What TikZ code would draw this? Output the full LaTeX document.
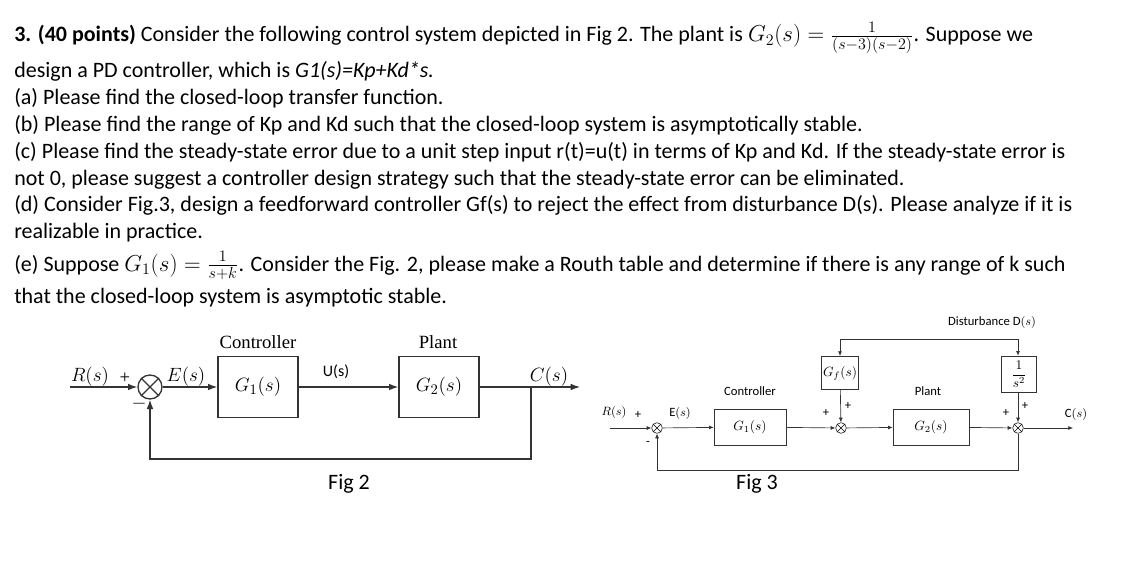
\documentclass[tikz,border=0pt]{standalone}
\usepackage{fontspec}
\setmainfont{Carlito}
\newfontfamily\tms{Liberation Serif}
\usetikzlibrary{arrows.meta}
\begin{document}
\begin{tikzpicture}[x=0.75pt,y=-0.75pt,
  line/.style={draw=black!80,line width=0.9pt},
  arr/.style={line,-{Latex[length=7pt,width=5pt]}},
  sarr/.style={draw=black!80,line width=0.5pt,-{Latex[length=3.5pt,width=3pt]}},
  tl/.style={anchor=base west,inner sep=0pt,font=\fontsize{16.5}{18}\selectfont},
  blk/.style={draw=black!80,line width=1pt,minimum width=60pt,minimum height=45.75pt,font=\tms\fontsize{15}{17}\selectfont},
  sblk/.style={draw=black!80,line width=0.5pt,font=\fontsize{10}{11}\selectfont,inner sep=1pt},
  lab/.style={font=\tms\fontsize{14}{16}\selectfont,inner sep=0pt},
  slab/.style={font=\fontsize{9.5}{10}\selectfont,inner sep=0pt}]
\useasboundingbox (0,0) rectangle (1126,567);
% text
\node[tl] (t1) at (14,42) {\textbf{3. (40 points)} Consider the following control system depicted in Fig 2. The plant is $G_2(s)=\frac{1}{(s-3)(s-2)}$. Suppose we};
\node[tl] (t2) at (14,77) {design a PD controller, which is \textit{G1(s)=Kp+Kd*s.}};
\node[tl] (t3) at (14,104) {(a) Please find the closed-loop transfer function.};
\node[tl] (t4) at (14,131) {(b) Please find the range of Kp and Kd such that the closed-loop system is asymptotically stable.};
\node[tl] (t5) at (14,158) {(c) Please find the steady-state error due to a unit step input r(t)=u(t) in terms of Kp and Kd. If the steady-state error is};
\node[tl] (t6) at (14,185) {not 0, please suggest a controller design strategy such that the steady-state error can be eliminated.};
\node[tl] (t7) at (14,211) {(d) Consider Fig.3, design a feedforward controller Gf(s) to reject the effect from disturbance D(s). Please analyze if it is};
\node[tl] (t8) at (14,238) {realizable in practice.};
\node[tl] (t9) at (14,271) {(e) Suppose $G_1(s)=\frac{1}{s+k}$. Consider the Fig. 2, please make a Routh table and determine if there is any range of k such};
\node[tl] (t10) at (14,303) {that the closed-loop system is asymptotic stable.};
% Fig 2
\coordinate (rin) at (70,387);
\node[draw=black!80,line width=1pt,circle,minimum size=18pt,inner sep=0pt] (s1) at (150,387) {};
\draw[line width=1pt,black!80] (s1.north west)--(s1.south east) (s1.north east)--(s1.south west);
\node[blk] (g1) at (258,387) {$G_1(s)$};
\node[blk] (g2) at (439,387) {$G_2(s)$};
\coordinate (br) at (531,387);
\coordinate (out) at (580,387);
\draw[arr] (rin)--(s1);
\draw[arr] (s1)--(g1);
\draw[arr] (g1)--(g2);
\draw[arr] (g2.east)--(out);
\draw[arr] (br)--(531,459)-|(s1.south);
\node[lab] (lr) at (90,377) {$R(s)$};
\node[lab] (lp) at (125,378) {+};
\node[lab] (lm) at (139,404) {$-$};
\node[lab] (le) at (186,377) {$E(s)$};
\node[slab,font=\fontsize{12}{14}\selectfont] (lu) at (336,372) {U(s)};
\node[lab] (lc) at (549,377) {$C(s)$};
\node[lab] (lct) at (258,342) {Controller};
\node[lab] (lpl) at (438,342) {Plant};
\node[font=\fontsize{16.5}{18}\selectfont] (f2) at (349,484) {Fig 2};
% Fig 3
\coordinate (rin3) at (610,428);
\node[draw=black!80,line width=0.5pt,circle,minimum size=8pt,inner sep=0pt] (a1) at (657,428) {};
\draw[line width=0.5pt] (a1.north west)--(a1.south east) (a1.north east)--(a1.south west);
\node[sblk,minimum width=54pt,minimum height=27pt] (h1) at (750,427) {$G_1(s)$};
\node[draw=black!80,line width=0.5pt,circle,minimum size=8pt,inner sep=0pt] (a2) at (841,428) {};
\draw[line width=0.5pt] (a2.north west)--(a2.south east) (a2.north east)--(a2.south west);
\node[sblk,minimum width=26pt,minimum height=25pt] (gf) at (840,373) {$G_f(s)$};
\node[sblk,minimum width=57pt,minimum height=27pt] (h2) at (931,427) {$G_2(s)$};
\node[draw=black!80,line width=0.5pt,circle,minimum size=8pt,inner sep=0pt] (a3) at (1018,428) {};
\draw[line width=0.5pt] (a3.north west)--(a3.south east) (a3.north east)--(a3.south west);
\node[sblk,minimum width=26pt,minimum height=27pt] (ds) at (1019,374) {$\displaystyle\frac{1}{s^2}$};
\coordinate (dtop) at (1018,339);
\coordinate (out3) at (1073,428);
\draw[sarr] (rin3)--(a1);
\draw[sarr] (a1)--(h1);
\draw[sarr] (h1)--(a2);
\draw[sarr] (a2)--(h2);
\draw[sarr] (h2)--(a3);
\draw[sarr] (a3)--(out3);
\draw[sarr] (gf)--(a2);
\draw[sarr] (ds.south-|a3)--(a3);
\draw[sarr] (dtop)--(ds.north-|dtop);
\draw[sarr] (dtop)-|(gf.north);
\draw[sarr] (a3)--(1018,470)-|(a1);
\node[slab] (dl) at (992,322) {Disturbance D$(s)$};
\node[slab] (rl) at (614,412) {$R(s)$};
\node[slab] (p1) at (638,415) {+};
\node[slab] (m1) at (648,443) {-};
\node[slab] (el) at (680,413) {E$(s)$};
\node[slab] (cl) at (750,391) {Controller};
\node[slab] (pl3) at (928,391) {Plant};
\node[slab] (p2) at (848,406) {+};
\node[slab] (p3) at (826,413) {+};
\node[slab] (p4) at (1025,406) {+};
\node[slab] (p5) at (1006,413) {+};
\node[slab] (cl3) at (1076,414) {C$(s)$};
\node[font=\fontsize{16.5}{18}\selectfont] (f3) at (757,484) {Fig 3};
\end{tikzpicture}
\end{document}
